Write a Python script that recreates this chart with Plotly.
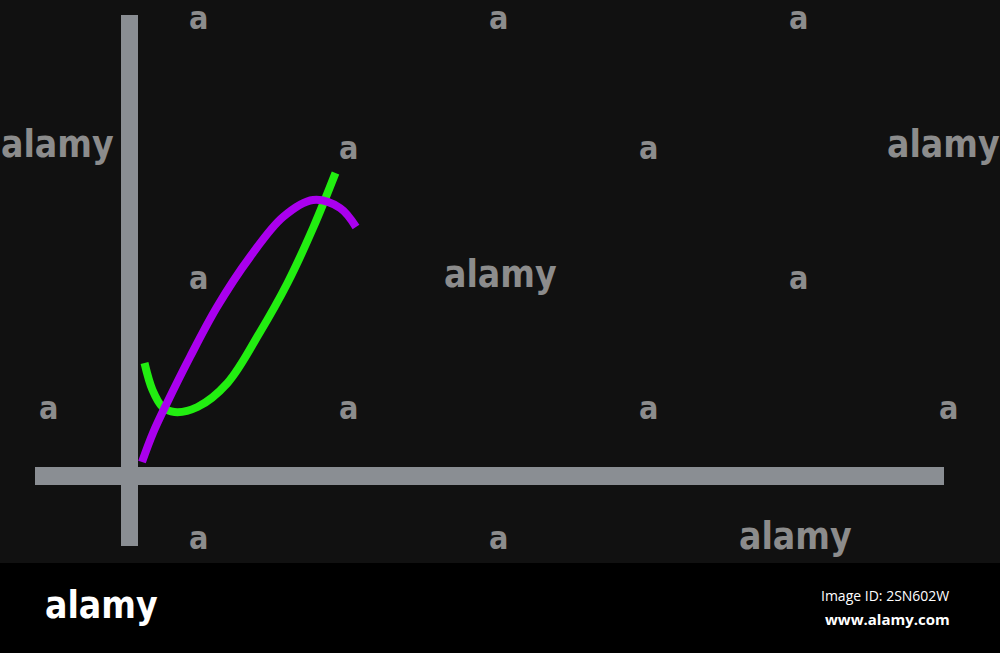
import plotly.graph_objects as go

# Curve data (chart units, origin at the axes crossing)
green_x = [1.5, 2.3, 3.3, 4.5, 6.8, 9.8, 13.0, 15.8, 18.4, 20.6]
green_y = [11.3, 8.6, 6.9, 6.4, 6.9, 9.3, 14.3, 19.3, 24.9, 30.3]
purple_x = [1.25, 2.35, 3.75, 6.05, 8.75, 12.05, 15.35, 18.35, 21.05, 22.65]
purple_y = [1.4, 4.3, 7.3, 11.9, 16.9, 21.9, 25.9, 27.6, 26.8, 24.9]

# Axis bar extents
xbar_x = [-9.45, 81.45]
ybar_y = [-7.0, 46.1]

# Watermarks (paper fractions)
big_marks = [(0.057, 0.778), (0.943, 0.778), (0.5, 0.579), (0.795, 0.178)]
small_marks = [(0.198, 0.972), (0.498, 0.972), (0.798, 0.972),
               (0.348, 0.773), (0.648, 0.773),
               (0.198, 0.574), (0.798, 0.574),
               (0.048, 0.375), (0.348, 0.375), (0.648, 0.375), (0.948, 0.375),
               (0.198, 0.176), (0.498, 0.176)]

BAR = "#8a8e93"
WM = "#8c8c8c"
FONT = "DejaVu Sans Condensed, Liberation Sans Narrow, DejaVu Sans, sans-serif"

fig = go.Figure()
fig.add_trace(go.Scatter(x=xbar_x, y=[0, 0], mode="lines",
                         line=dict(color=BAR, width=18), hoverinfo="skip"))
fig.add_trace(go.Scatter(x=[0, 0], y=ybar_y, mode="lines",
                         line=dict(color=BAR, width=17), hoverinfo="skip"))
fig.add_trace(go.Scatter(x=green_x, y=green_y, mode="lines",
                         line=dict(color="#22ee11", width=8, shape="spline")))
fig.add_trace(go.Scatter(x=purple_x, y=purple_y, mode="lines",
                         line=dict(color="#aa00ee", width=8, shape="spline")))

ann = []
for x, y in big_marks:
    ann.append(dict(x=x, y=y, xref="paper", yref="paper", text="<b>alamy</b>",
                    showarrow=False, font=dict(family=FONT, size=37, color=WM),
                    xanchor="center", yanchor="middle"))
for x, y in small_marks:
    ann.append(dict(x=x, y=y, xref="paper", yref="paper", text="<b>a</b>",
                    showarrow=False, font=dict(family=FONT, size=32, color=WM),
                    xanchor="center", yanchor="middle"))
ann.append(dict(x=0.101, y=0.072, xref="paper", yref="paper", text="<b>alamy</b>",
                showarrow=False, font=dict(family=FONT, size=37, color="white"),
                xanchor="center", yanchor="middle"))
ann.append(dict(x=0.951, y=0.088, xref="paper", yref="paper", text="Image ID: 2SN602W",
                showarrow=False, font=dict(family="Open Sans", size=14, color="white"),
                xanchor="right", yanchor="middle"))
ann.append(dict(x=0.952, y=0.052, xref="paper", yref="paper", text="<b>www.alamy.com</b>",
                showarrow=False, font=dict(family="Open Sans", size=15, color="white"),
                xanchor="right", yanchor="middle"))

fig.update_layout(
    width=1000, height=653, margin=dict(l=0, r=0, t=0, b=0),
    paper_bgcolor="#111111", plot_bgcolor="#111111", showlegend=False,
    xaxis=dict(range=[-12.95, 87.05], visible=False, fixedrange=True),
    yaxis=dict(range=[-17.7, 47.6], visible=False, fixedrange=True),
    shapes=[dict(type="rect", xref="paper", yref="paper", x0=0, x1=1, y0=0,
                 y1=(653 - 563) / 653, fillcolor="black", line=dict(width=0),
                 layer="below")],
    annotations=ann,
)
fig.write_html("out.html", config={"displayModeBar": False},
               post_script="document.body.style.margin='0';document.body.style.overflow='hidden';")
